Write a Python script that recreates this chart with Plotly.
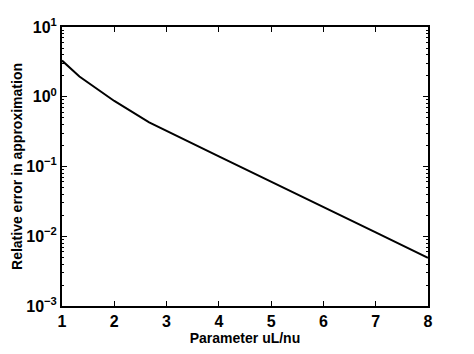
import plotly.graph_objects as go

x_vals = [1.0, 1.333, 2.0, 2.667, 4.0, 5.0, 6.0, 7.0, 8.0]
err_vals = [3.3, 1.95, 0.87, 0.43, 0.14, 0.061, 0.0265, 0.0114, 0.0049]

x_ticks = [1, 2, 3, 4, 5, 6, 7, 8]

fig = go.Figure()
fig.add_trace(go.Scatter(x=x_vals, y=err_vals, mode="lines",
                         line=dict(color="black", width=2), showlegend=False))

font = dict(family="Liberation Sans, Arial, sans-serif", size=16, color="black")
fig.update_layout(
    width=474, height=354,
    margin=dict(l=62, r=46, t=27, b=39),
    paper_bgcolor="white", plot_bgcolor="white",
    font=font,
)
fig.update_xaxes(
    range=[1, 8], tickvals=x_ticks, ticktext=[f"<b>{v}</b>" for v in x_ticks],
    ticks="inside", ticklen=5, tickwidth=1, tickcolor="black",
    showline=True, linewidth=2, linecolor="black", mirror="ticks",
    showgrid=False, zeroline=False, tickfont=dict(size=16),
    title=dict(text="<b>Parameter uL/nu</b>", standoff=2, font=dict(size=14)),
)
fig.update_yaxes(
    type="log", range=[-3, 1],
    tickvals=[1e-3, 1e-2, 1e-1, 1, 10],
    ticktext=["<b>10<sup>−3</sup></b>", "<b>10<sup>−2</sup></b>", "<b>10<sup>−1</sup></b>",
              "<b>10<sup>0</sup></b>", "<b>10<sup>1</sup></b>"],
    ticks="inside", ticklen=5, tickwidth=1, tickcolor="black",
    minor=dict(ticks="inside", ticklen=2, tickcolor="black", dtick="D1", showgrid=False),
    showline=True, linewidth=2, linecolor="black", mirror="ticks",
    showgrid=False, zeroline=False, tickfont=dict(size=16),
    title=dict(text="<b>Relative error in approximation</b>", standoff=0, font=dict(size=14)),
)
fig.write_html("out.html")
